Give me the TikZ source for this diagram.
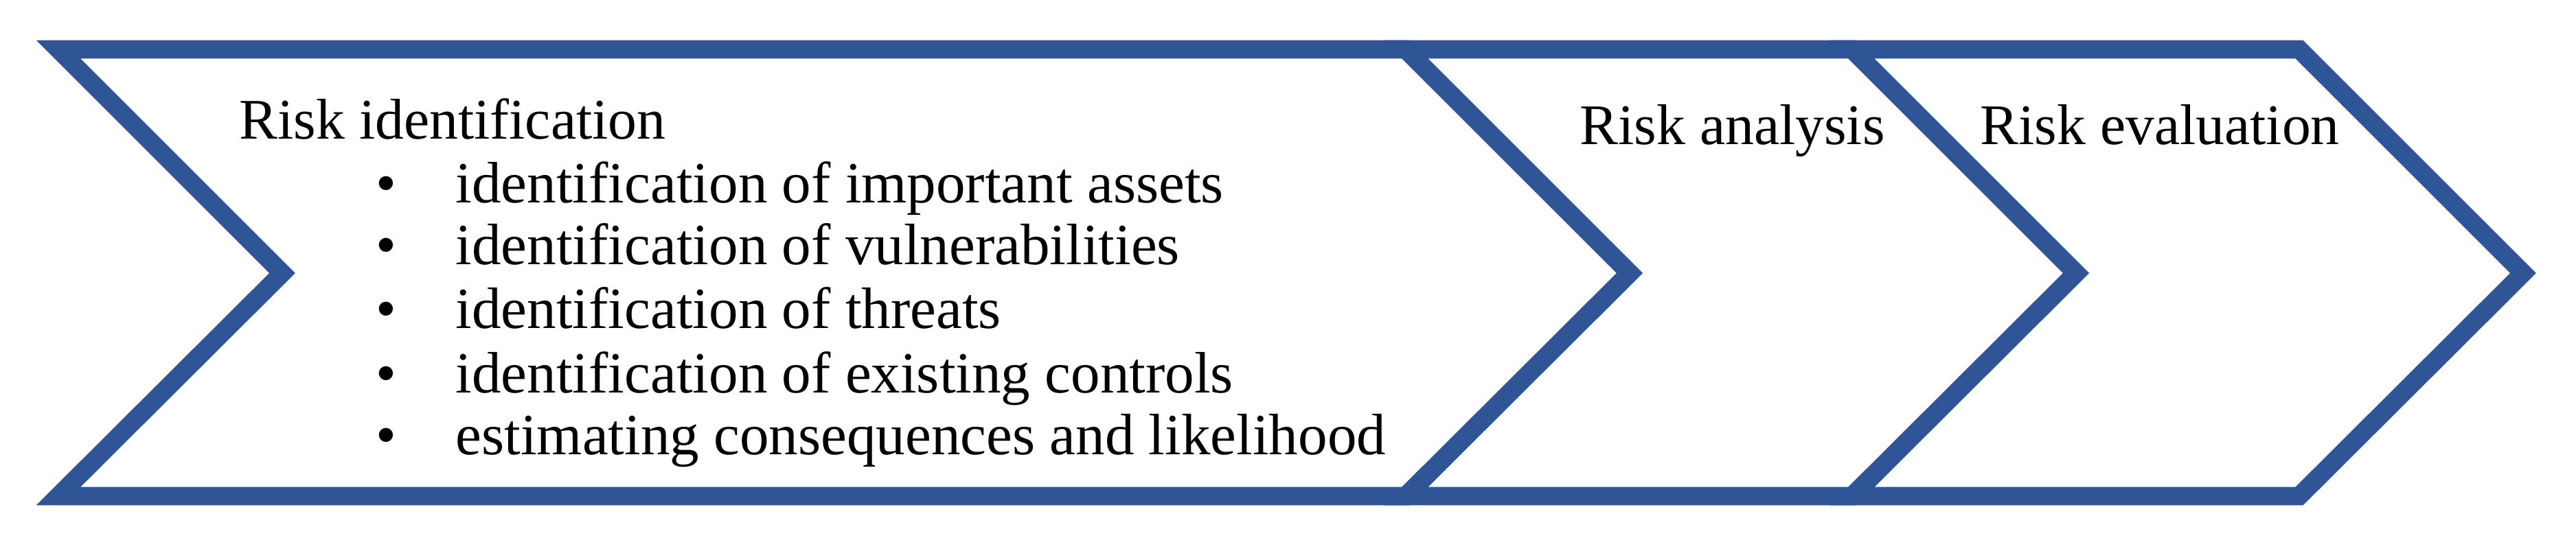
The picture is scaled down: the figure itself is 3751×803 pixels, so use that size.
\documentclass[tikz,border=0pt]{standalone}
\usepackage{fontspec}
\setmainfont{Liberation Serif}
\definecolor{chevblue}{RGB}{47,85,151}
\newcommand{\bul}{\makebox[1.16cm][l]{\textbullet}}

\begin{document}
\begin{tikzpicture}
        [x=0.01cm, y=-0.01cm,
        chevron/.style={draw=chevblue, line width=0.267cm},
        label/.style={anchor=base west, inner sep=0pt, font=\fontsize{23.8}{28}\selectfont},
        item/.style={anchor=base west, inner sep=0pt, font=\fontsize{24.2}{28}\selectfont}]

        \useasboundingbox (0,0) rectangle (3751,803);

        % the three chevrons
        \draw[chevron] (85,72) -- (2047,72) -- (2373,398) -- (2047,723) -- (85,723) -- (411,398) -- cycle;
        \draw[chevron] (2047,72) -- (2697,72) -- (3023,398) -- (2697,723) -- (2047,723) -- (2373,398) -- cycle;
        \draw[chevron] (2697,72) -- (3348,72) -- (3674,398) -- (3348,723) -- (2697,723) -- (3023,398) -- cycle;

        % stage titles
        \node[label] (ident) at (348,202) {Risk identification};
        \node[label] (analysis) at (2300,210) {Risk analysis};
        \node[label] (evaluation) at (2883,210) {Risk evaluation};

        % steps of the identification
        \node[item] (assets) at (547,295) {\bul identification of important assets};
        \node[item] (vulner) at (547,385) {\bul identification of vulnerabilities};
        \node[item] (threats) at (547,478) {\bul identification of threats};
        \node[item] (controls) at (547,572) {\bul identification of existing controls};
        \node[item] (conseq) at (547,662) {\bul estimating consequences and likelihood};

    \end{tikzpicture}
\end{document}
